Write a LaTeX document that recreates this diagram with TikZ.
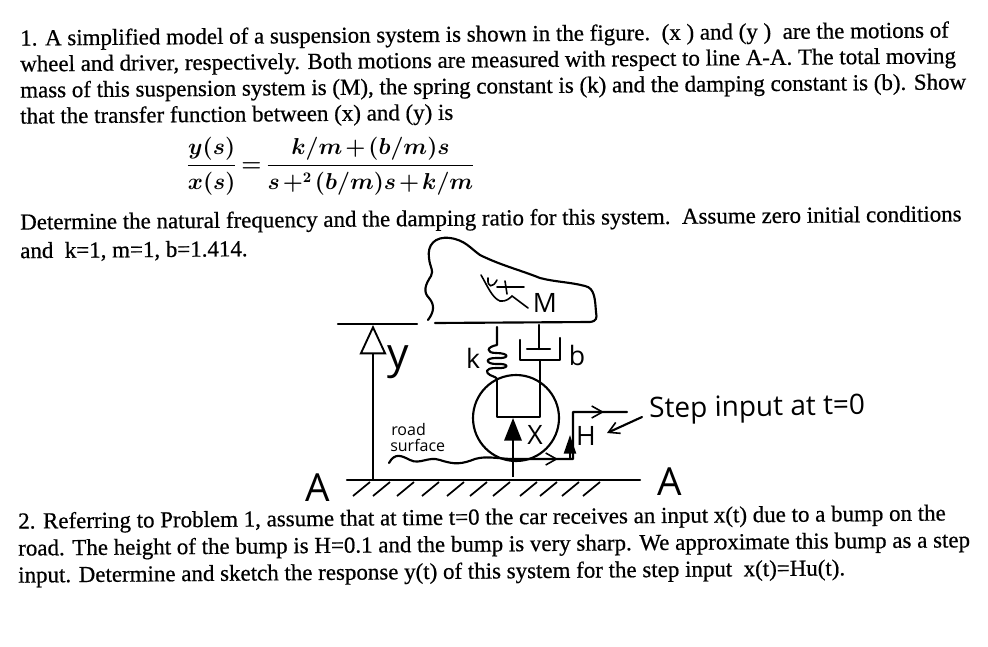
\documentclass[tikz,border=0pt]{standalone}
\usepackage{fontspec}
\usepackage{amsmath}
\setmainfont{Liberation Serif}
\newfontfamily\scanfont[FakeBold=0.6]{Liberation Serif}
\newfontfamily\handfont{Open Sans}
\usetikzlibrary{arrows.meta}
\tikzset{
  zeile/.style={anchor=west,inner sep=0pt,rotate=0.5,font=\scanfont\fontsize{17.2}{20}\selectfont},
  hand/.style={inner sep=0pt,font=\handfont\fontsize{#1}{#1}\selectfont},
  strich/.style={line width=1.6pt,line cap=round,line join=round},
  offen/.style={-{Straight Barb[length=8pt,width=9pt,line width=1.2pt]}},
  voll/.style={-{Triangle[length=17pt,width=13pt]}}
}
\begin{document}
\begin{tikzpicture}[x=0.75pt,y=-0.75pt]
  \useasboundingbox (0,0) rectangle (988,646);
  % Aufgabe 1
  \node[zeile] (a1) at (20,40) {1. A simplified model of a suspension system is shown in the figure.\ \ (x ) and (y )\ \ are the motions of};
  \node[zeile] (a2) at (20,66) {wheel and driver, respectively. Both motions are measured with respect to line A-A. The total moving};
  \node[zeile] (a3) at (20,92) {mass of this suspension system is (M), the spring constant is (k) and the damping constant is (b). Show};
  \node[zeile] (a4) at (20,118) {that the transfer function between (x) and (y) is};
  % Bruch
  \node[inner sep=0pt,anchor=west,font=\fontsize{16.3}{20}\selectfont\boldmath] (bruch) at (186,166)
    {\medmuskip=2mu\thickmuskip=3mu$\dfrac{y(s)}{x(s)}=\dfrac{k/m+(b/m)s}{s+^{2}(b/m)s+k/m}$};
  \node[zeile] (a5) at (20,224) {Determine the natural frequency and the damping ratio for this system.\ \ Assume zero initial conditions};
  \node[zeile] (a6) at (20,252) {and\ \ k=1, m=1, b=1.414.};
  % Aufgabe 2
  \node[zeile] (b1) at (18,523) {2. Referring to Problem 1, assume that at time t=0 the car receives an input x(t) due to a bump on the};
  \node[zeile] (b2) at (18,550) {road. The height of the bump is H=0.1 and the bump is very sharp. We approximate this bump as a step};
  \node[zeile] (b3) at (18,577) {input. Determine and sketch the response y(t) of this system for the step input\ \ x(t)=Hu(t).};
  % Karosserie
  \draw[strich] (435,323) -- (590,322) .. controls (597,321) and (597,318) .. (596,312)
    .. controls (595,300) and (595,288) .. (585,286) .. controls (570,282) and (555,282) .. (540,278)
    .. controls (520,270) and (500,265) .. (480,255) .. controls (470,248) and (465,240) .. (450,238)
    .. controls (435,236) and (427,245) .. (429,258) .. controls (430,268) and (434,270) .. (431,276)
    .. controls (425,285) and (423,292) .. (429,298) .. controls (435,305) and (434,312) .. (428,320);
  % Fahrer
  \draw[line width=1.2pt,line cap=round] (481,275) .. controls (487,285) and (492,298) .. (500,301)
    .. controls (506,302) and (510,298) .. (512,296) -- (528,308);
  \draw[line width=1.2pt,line cap=round] (488,278) .. controls (487,288) and (493,288) .. (497,280);
  \draw[line width=1.2pt,line cap=round] (497,287) -- (524,287) (505,281) -- (507,294);
  \node[hand=20] (masse) at (545,303) {M};
  % Bezugslinie y
  \coordinate (yoben) at (338,324);
  \coordinate (yende) at (417,324);
  \draw[strich] (yoben) -- (yende);
  \coordinate (yfuss) at (373,479);
  \coordinate (yspitze) at (373,325);
  \draw[strich,-{Triangle[open,length=22pt,width=20pt,line width=1.4pt]}] (yfuss) -- (yspitze);
  \node[hand=32] (ylabel) at (398,362) {y};
  % Feder
  \node[hand=20] (klabel) at (473,358) {k};
  \coordinate (federoben) at (497,327);
  \coordinate (federunten) at (497,380);
  \draw[strich] (federoben) -- (497,345) .. controls (486,347) and (486,353) .. (496,353)
    .. controls (510,353) and (510,359) .. (496,358) .. controls (484,358) and (486,364) .. (496,364)
    .. controls (510,363) and (510,369) .. (496,368) .. controls (484,368) and (486,373) .. (490,375)
    .. controls (494,377) and (497,377) .. (federunten);
  % Daempfer
  \node[hand=20] (blabel) at (577,355) {b};
  \coordinate (stangeoben) at (539,325);
  \coordinate (kolben) at (539,349);
  \coordinate (stangeunten) at (540,361);
  \coordinate (kastenrechts) at (540,417);
  \coordinate (kastenlinks) at (497,417);
  \draw[strich] (stangeoben) -- (kolben);
  \draw[strich] (527,349) -- (550,349);
  \draw[strich] (520,340) -- (520,360) -- (560,360) -- (560,338);
  \draw[strich] (stangeunten) -- (kastenrechts) -- (kastenlinks) -- (federunten);
  % Rad
  \node[draw,line width=1.6pt,circle,minimum size=64.5pt,inner sep=0pt] (rad) at (516,418) {};
  % Bewegung x
  \coordinate (xfuss) at (513,477);
  \coordinate (xspitze) at (513,418);
  \draw[line width=1.8pt,voll] (xfuss) -- (xspitze);
  \node[hand=20] (xlabel) at (535,435) {X};
  % Strasse und Stufe
  \coordinate (stufeunten) at (573,459);
  \coordinate (stufeoben) at (573,412);
  \coordinate (stufeende) at (627,412);
  \draw[strich] (389,463) .. controls (395,452) and (402,456) .. (410,460)
    .. controls (420,465) and (428,456) .. (440,460) .. controls (455,465) and (462,464) .. (475,459)
    .. controls (485,456) and (495,458) .. (510,459) -- (stufeunten) -- (stufeoben) -- (stufeende);
  \draw[strich,offen] (540,459) -- (558,459);
  \draw[strich,offen] (585,412) -- (604,412);
  \draw[line width=1.8pt,-{Triangle[length=14pt,width=9pt]}] (570,458) -- (570,435);
  \node[hand=20] (hlabel) at (586,436) {H};
  \node[hand=12,anchor=west] (road) at (391,429) {road};
  \node[hand=12,anchor=west] (surface) at (390,445) {surface};
  % Sprungeingang
  \node[hand=21,anchor=west,rotate=1] (stepin) at (649,411) {Step input at t=0};
  \draw[strich,offen] (642,417) -- (607,433);
  % Linie A-A
  \coordinate (linkeslinie) at (347,480);
  \coordinate (rechteslinie) at (640,480);
  \draw[strich] (linkeslinie) -- (rechteslinie);
  \foreach \xfuss in {353,373,397,422,447,470,493,520,540,562,583}
    \draw[line width=1.3pt] (\xfuss,496) -- ++(17,-14);
  \node[hand=29] (alinks) at (318,488) {A};
  \node[hand=29] (arechts) at (670,482) {A};
\end{tikzpicture}
\end{document}
